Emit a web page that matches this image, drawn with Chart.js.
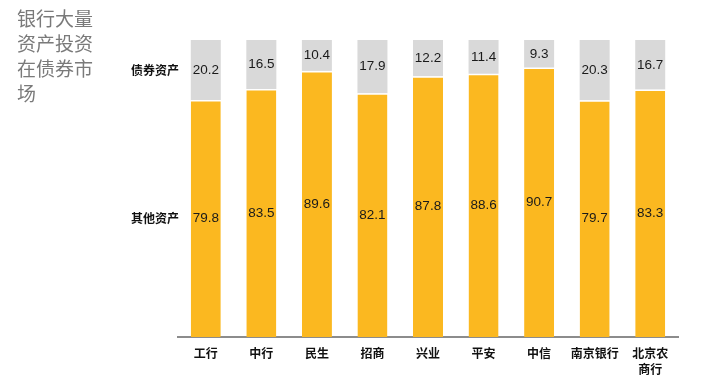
<!DOCTYPE html>
<html>
<head>
<meta charset="utf-8">
<script src="https://cdn.jsdelivr.net/npm/chart.js@4/dist/chart.umd.min.js"></script>
<style>
  html, body { margin: 0; padding: 0; background: #fff; }
  #wrap { position: relative; width: 718px; height: 376px; }
  #title {
    position: absolute; left: 17px; top: 5px; width: 80px;
    font-family: "Noto Sans CJK SC", sans-serif; font-size: 19px; line-height: 25px;
    color: #7a7a7a;
  }
</style>
</head>
<body>
<div id="wrap">
  <canvas id="chart" width="718" height="376"></canvas>
  <div id="title">银行大量资产投资在债券市场</div>
</div>
<script>
// banks along the x axis
const banks = ['工行', '中行', '民生', '招商', '兴业', '平安', '中信', '南京银行', ['北京农', '商行']];
// share of total assets, %
const otherAssets = [79.8, 83.5, 89.6, 82.1, 87.8, 88.6, 90.7, 79.7, 83.3];
const bondAssets = [20.2, 16.5, 10.4, 17.9, 12.2, 11.4, 9.3, 20.3, 16.7];

const cjk = '"Noto Sans CJK SC", sans-serif';

// value inside each segment + series name left of the first bar
const segmentLabels = {
  id: 'segmentLabels',
  afterDatasetsDraw(chart) {
    const ctx = chart.ctx;
    ctx.save();
    chart.data.datasets.forEach((ds, i) => {
      const meta = chart.getDatasetMeta(i);
      meta.data.forEach((bar, j) => {
        const { x, y, base } = bar.getProps(['x', 'y', 'base'], true);
        const mid = (y + base) / 2;
        ctx.font = '13.5px "Liberation Sans", Arial, sans-serif';
        ctx.fillStyle = '#1a1a1a';
        ctx.textAlign = 'center';
        ctx.textBaseline = 'middle';
        ctx.fillText(ds.data[j].toFixed(1), x, mid);
        if (j === 0) {
          ctx.font = 'bold 12px ' + cjk;
          ctx.fillStyle = '#111';
          ctx.textAlign = 'right';
          ctx.fillText(ds.label, chart.chartArea.left + 1, mid);
        }
      });
    });
    ctx.restore();
  }
};

new Chart(document.getElementById('chart'), {
  type: 'bar',
  data: {
    labels: banks,
    datasets: [
      {
        label: '其他资产',
        data: otherAssets,
        backgroundColor: '#fbb820',
        borderColor: '#ffffff',
        borderWidth: { top: 1.5, left: 0, right: 0, bottom: 0 },
        borderSkipped: false
      },
      {
        label: '债券资产',
        data: bondAssets,
        backgroundColor: '#d9d9d9',
        borderWidth: 0
      }
    ]
  },
  options: {
    responsive: false,
    animation: false,
    layout: { padding: { left: 178, right: 40, top: 40, bottom: 0 } },
    datasets: { bar: { categoryPercentage: 1, barPercentage: 0.54 } },
    plugins: { legend: { display: false }, tooltip: { enabled: false } },
    scales: {
      x: {
        stacked: true,
        grid: { display: false, drawTicks: false },
        border: { display: true, color: '#8c8c8c', width: 2 },
        ticks: {
          padding: 9,
          color: '#111',
          maxRotation: 0,
          autoSkip: false,
          font: { family: cjk, size: 12, weight: 'bold', lineHeight: 1.3 }
        },
        afterFit(scale) { scale.height = 39; }
      },
      y: {
        stacked: true,
        display: false,
        min: 0,
        max: 100
      }
    }
  },
  plugins: [segmentLabels]
});
</script>
</body>
</html>
